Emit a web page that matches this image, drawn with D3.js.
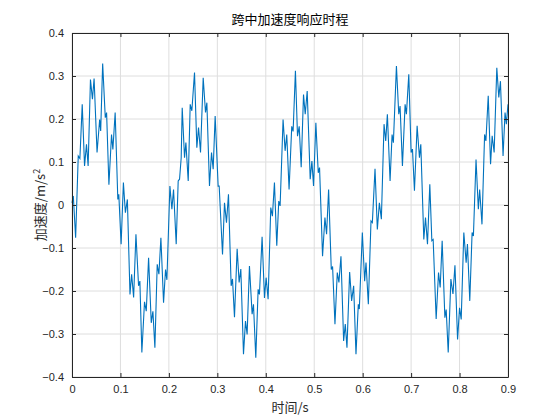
<!DOCTYPE html>
<html>
<head>
<meta charset="utf-8">
<script src="https://cdn.jsdelivr.net/npm/d3@7"></script>
<style>
  body { margin: 0; background: #fff; }
  text { font-family: "Noto Sans CJK SC", "DejaVu Sans", sans-serif; }
</style>
</head>
<body>
<svg id="chart" width="560" height="420"></svg>
<script>
// values
const timeS = [0,0.0027,0.0075,0.0129,0.0163,0.0211,0.0259,0.0299,0.0333,0.0381,0.0422,0.0456,0.0517,0.0571,0.0592,0.0633,0.0687,0.0714,0.0762,0.0816,0.0844,0.0891,0.0946,0.0966,0.1014,0.1061,0.1102,0.1143,0.1197,0.1231,0.1272,0.1320,0.1374,0.1401,0.1442,0.1497,
  0.1533,0.1581,0.1636,0.167,0.1711,0.1759,0.1794,0.1835,0.189,0.1931,0.1959,0.2021,0.2062,0.2096,0.2151,0.2192,0.222,0.2254,0.2275,0.2323,0.2351,0.2399,0.244,0.2474,0.2529,0.2577,0.2612,0.2653,0.2708,0.2756,0.2784,0.2838,0.288,0.2914,0.2955,0.3017,0.3038,
  0.3107,0.3148,0.3189,0.323,0.3285,0.3313,0.3354,0.3409,0.345,0.3485,0.354,0.3581,0.3615,0.3663,0.3718,0.3746,0.3794,0.3842,0.3869,0.3924,0.3973,0.4007,0.4048,0.4103,0.4137,0.4179,0.4227,0.4268,0.4296,0.4357,0.4399,0.4433,0.4481,0.4536,0.4564,0.4612,
  0.4655,0.469,0.4731,0.4779,0.4814,0.4855,0.4917,0.4952,0.4986,0.5034,0.5083,0.511,0.5172,0.5221,0.5255,0.5297,0.5352,0.5379,0.5428,0.5476,0.551,0.5552,0.5607,0.5641,0.5676,0.5731,0.5772,0.5814,0.5862,0.591,0.5931,0.5993,0.6041,0.6069,0.6117,0.6172,0.62,0.6255,
  0.6303,0.6345,0.6386,0.6441,0.6476,0.651,0.6566,0.6607,0.6634,0.6697,0.6745,0.6772,0.6821,0.6876,0.6903,0.6952,0.7,0.7028,0.7069,0.7124,0.7172,0.72,0.7262,0.7297,0.7338,0.7386,0.7428,0.7455,0.7517,0.7566,0.76,0.7641,0.7697,0.7724,0.7766,0.7821,
  0.7864,0.7905,0.7959,0.8,0.8034,0.8088,0.8136,0.8163,0.8211,0.8259,0.8286,0.834,0.8388,0.8415,0.8463,0.8517,0.8544,0.8592,0.864,0.8673,0.8714,0.8769,0.881,0.8844,0.8898,0.8939,0.8966,0.9];
const accel = [0.005,0.021,-0.076,0.114,0.108,0.234,0.091,0.141,0.091,0.292,0.246,0.294,0.122,0.199,0.172,0.329,0.203,0.215,0.047,0.164,0.129,0.215,0.013,0.025,-0.091,0.052,-0.018,0.013,-0.208,-0.161,-0.215,-0.068,-0.188,-0.177,-0.343,-0.225,
  -0.247,-0.123,-0.274,-0.247,-0.332,-0.138,-0.161,-0.076,-0.227,-0.150,-0.174,0.044,-0.010,0.036,-0.091,0.056,0.060,0.110,0.226,0.110,0.145,0.056,0.234,0.219,0.308,0.133,0.180,0.122,0.296,0.215,0.238,0.044,0.122,0.083,0.207,0.044,0.044,
  -0.115,0.005,-0.041,0.025,-0.188,-0.172,-0.261,-0.102,-0.18,-0.149,-0.347,-0.27,-0.301,-0.142,-0.254,-0.231,-0.355,-0.196,-0.208,-0.074,-0.216,-0.169,-0.219,-0.006,-0.026,0.052,-0.095,0.009,-0.002,0.199,0.126,0.164,0.036,0.183,0.171,0.312,
  0.160,0.183,0.088,0.257,0.211,0.265,0.060,0.102,0.044,0.191,0.075,0.087,-0.119,-0.029,-0.068,0.036,-0.150,-0.143,-0.277,-0.157,-0.180,-0.119,-0.316,-0.277,-0.332,-0.156,-0.223,-0.188,-0.347,-0.231,-0.242,-0.064,-0.177,-0.134,-0.231,-0.037,-0.041,0.084,
  -0.057,0.005,-0.033,0.188,0.149,0.211,0.056,0.164,0.145,0.323,0.211,0.230,0.091,0.234,0.211,0.304,0.122,0.130,0.033,0.184,0.110,0.141,-0.080,-0.029,-0.091,0.048,-0.083,-0.080,-0.265,-0.157,-0.192,-0.083,-0.262,-0.243,-0.343,-0.172,
  -0.207,-0.140,-0.313,-0.239,-0.266,-0.064,-0.134,-0.091,-0.223,-0.064,-0.072,0.106,-0.010,0.036,-0.045,0.164,0.149,0.254,0.095,0.161,0.122,0.319,0.250,0.288,0.114,0.215,0.188,0.234];
const xTicks = [0,0.1,0.2,0.3,0.4,0.5,0.6,0.7,0.8,0.9];
const yTicks = [-0.4,-0.3,-0.2,-0.1,0,0.1,0.2,0.3,0.4];

const svg = d3.select("#chart");
const mLeft = 72, mRight = 508, mTop = 33, mBottom = 377;

const x = d3.scaleLinear().domain([0, 0.9]).range([mLeft, mRight]);
const y = d3.scaleLinear().domain([-0.4, 0.4]).range([mBottom, mTop]);

// grid
svg.append("g").selectAll("line").data(xTicks).join("line")
  .attr("x1", d => x(d)).attr("x2", d => x(d)).attr("y1", mTop).attr("y2", mBottom)
  .attr("stroke", "#dedede").attr("stroke-width", 1);
svg.append("g").selectAll("line").data(yTicks).join("line")
  .attr("y1", d => y(d)).attr("y2", d => y(d)).attr("x1", mLeft).attr("x2", mRight)
  .attr("stroke", "#dedede").attr("stroke-width", 1);

// line
const line = d3.line().x((d, i) => x(timeS[i])).y(d => y(d));
svg.append("path").datum(accel)
  .attr("d", line).attr("fill", "none")
  .attr("stroke", "#0072BD").attr("stroke-width", 1.1);

// axes (MATLAB style, ticks inward, box)
const fmt = d => d === 0 ? "0" : d3.format(".1f")(d);
svg.append("g").attr("transform", `translate(0,${mBottom})`)
  .call(d3.axisBottom(x).tickValues(xTicks).tickFormat(fmt).tickSizeInner(-4).tickSizeOuter(0).tickPadding(8));
svg.append("g").attr("transform", `translate(0,${mTop})`)
  .call(d3.axisTop(x).tickValues(xTicks).tickFormat("").tickSizeInner(-4).tickSizeOuter(0));
svg.append("g").attr("transform", `translate(${mLeft},0)`)
  .call(d3.axisLeft(y).tickValues(yTicks).tickFormat(fmt).tickSizeInner(-4).tickSizeOuter(0).tickPadding(8));
svg.append("g").attr("transform", `translate(${mRight},0)`)
  .call(d3.axisRight(y).tickValues(yTicks).tickFormat("").tickSizeInner(-4).tickSizeOuter(0));
svg.selectAll(".domain, .tick line").attr("stroke", "#262626");
svg.selectAll(".tick text").attr("fill", "#262626").style("font-size", "11px")
  .style("font-family", "Liberation Sans, Arial, sans-serif");

svg.append("text").attr("x", (mLeft + mRight) / 2).attr("y", 24)
  .attr("text-anchor", "middle").attr("font-size", 13).attr("fill", "#000")
  .text("跨中加速度响应时程");
svg.append("text").attr("x", (mLeft + mRight) / 2).attr("y", 412)
  .attr("text-anchor", "middle").attr("font-size", 13).attr("fill", "#262626")
  .text("时间/s");
const yl = svg.append("text").attr("transform", `translate(45,${(mTop + mBottom) / 2}) rotate(-90)`)
  .attr("text-anchor", "middle").attr("font-size", 13).attr("fill", "#262626");
yl.append("tspan").text("加速度/m/s");
yl.append("tspan").attr("dy", -5).attr("font-size", 9).text("2");
</script>
</body>
</html>
